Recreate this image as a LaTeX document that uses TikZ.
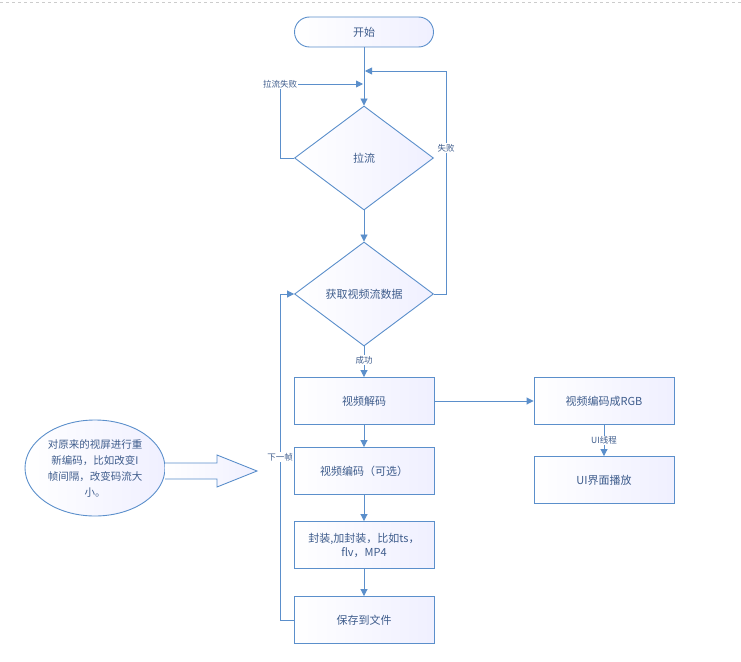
\documentclass[tikz,border=0pt]{standalone}
\usepackage{fontspec}
\setmainfont{Noto Sans CJK SC}
\usetikzlibrary{shapes.geometric,arrows.meta}
\definecolor{ln}{HTML}{5B8FCB}
\definecolor{tx}{HTML}{3E5C8C}
\begin{document}
\begin{tikzpicture}[x=1pt,y=-1pt,
  box/.style={draw=ln,line width=0.9pt,left color=white,right color=blue!6,text=tx,font=\fontsize{11}{14}\selectfont,align=center},
  rbox/.style={box,rectangle,minimum width=140pt,minimum height=47pt},
  dia/.style={box,diamond,minimum width=139pt,minimum height=104pt,inner sep=0pt},
  arr/.style={draw=ln,line width=0.9pt,-{Triangle[length=7pt,width=7pt]}},
  lbl/.style={fill=white,text=tx,font=\fontsize{8.5}{10}\selectfont,inner sep=1pt}]
\useasboundingbox (0,0) rectangle (741,661);
\draw[gray!40,dashed] (0,2) -- (741,2);
\node[rbox,rounded corners=15pt,minimum width=139pt,minimum height=30pt] (start) at (364,32) {开始};
\node[dia] (pull) at (364,158) {拉流};
\node[dia] (get) at (364,294) {获取视频流数据};
\node[rbox] (dec) at (364,401) {视频解码};
\node[rbox] (enc) at (364,471) {视频编码（可选）};
\node[rbox] (pkg) at (364,545) {封装,加封装，比如ts，\\flv，MP4};
\node[rbox] (save) at (364,620) {保存到文件};
\node[rbox] (rgb) at (604,401) {视频编码成RGB};
\node[rbox] (ui) at (604,480) {UI界面播放};
\node[box,ellipse,minimum width=140pt,minimum height=96pt,inner sep=0pt,font=\fontsize{10.5}{16}\selectfont] (ell) at (95,468) {对原来的视屏进行重\\新编码，比如改变I\\帧间隔，改变码流大\\小。};
\path[box] (165,463) -- (217,463) -- (217,455) -- (257,471) -- (217,487) -- (217,479) -- (165,479);
\coordinate (t1) at (364,71);
\coordinate (t2) at (364,84);
\draw[arr] (start) -- (pull);
\draw[arr] (pull) -- (get);
\draw[arr] (get) -- node[lbl,pos=0.45]{成功} (dec);
\draw[arr] (dec) -- (enc);
\draw[arr] (enc) -- (pkg);
\draw[arr] (pkg) -- (save);
\draw[arr] (dec) -- (rgb);
\draw[arr] (rgb) -- node[lbl]{UI线程} (ui);
\draw[arr] (pull.west) -- (280,158) -- (280,84) node[lbl]{拉流失败} -- ([xshift=-1pt]t2);
\draw[arr] (get.east) -- (446,294) -- (446,71) -- ([xshift=1pt]t1);
\node[lbl] at (446,148) {失败};
\draw[arr] (save.west) -- (280,620) -- (280,294) -- (get.west);
\node[lbl] at (280,457) {下一帧};
\end{tikzpicture}
\end{document}
